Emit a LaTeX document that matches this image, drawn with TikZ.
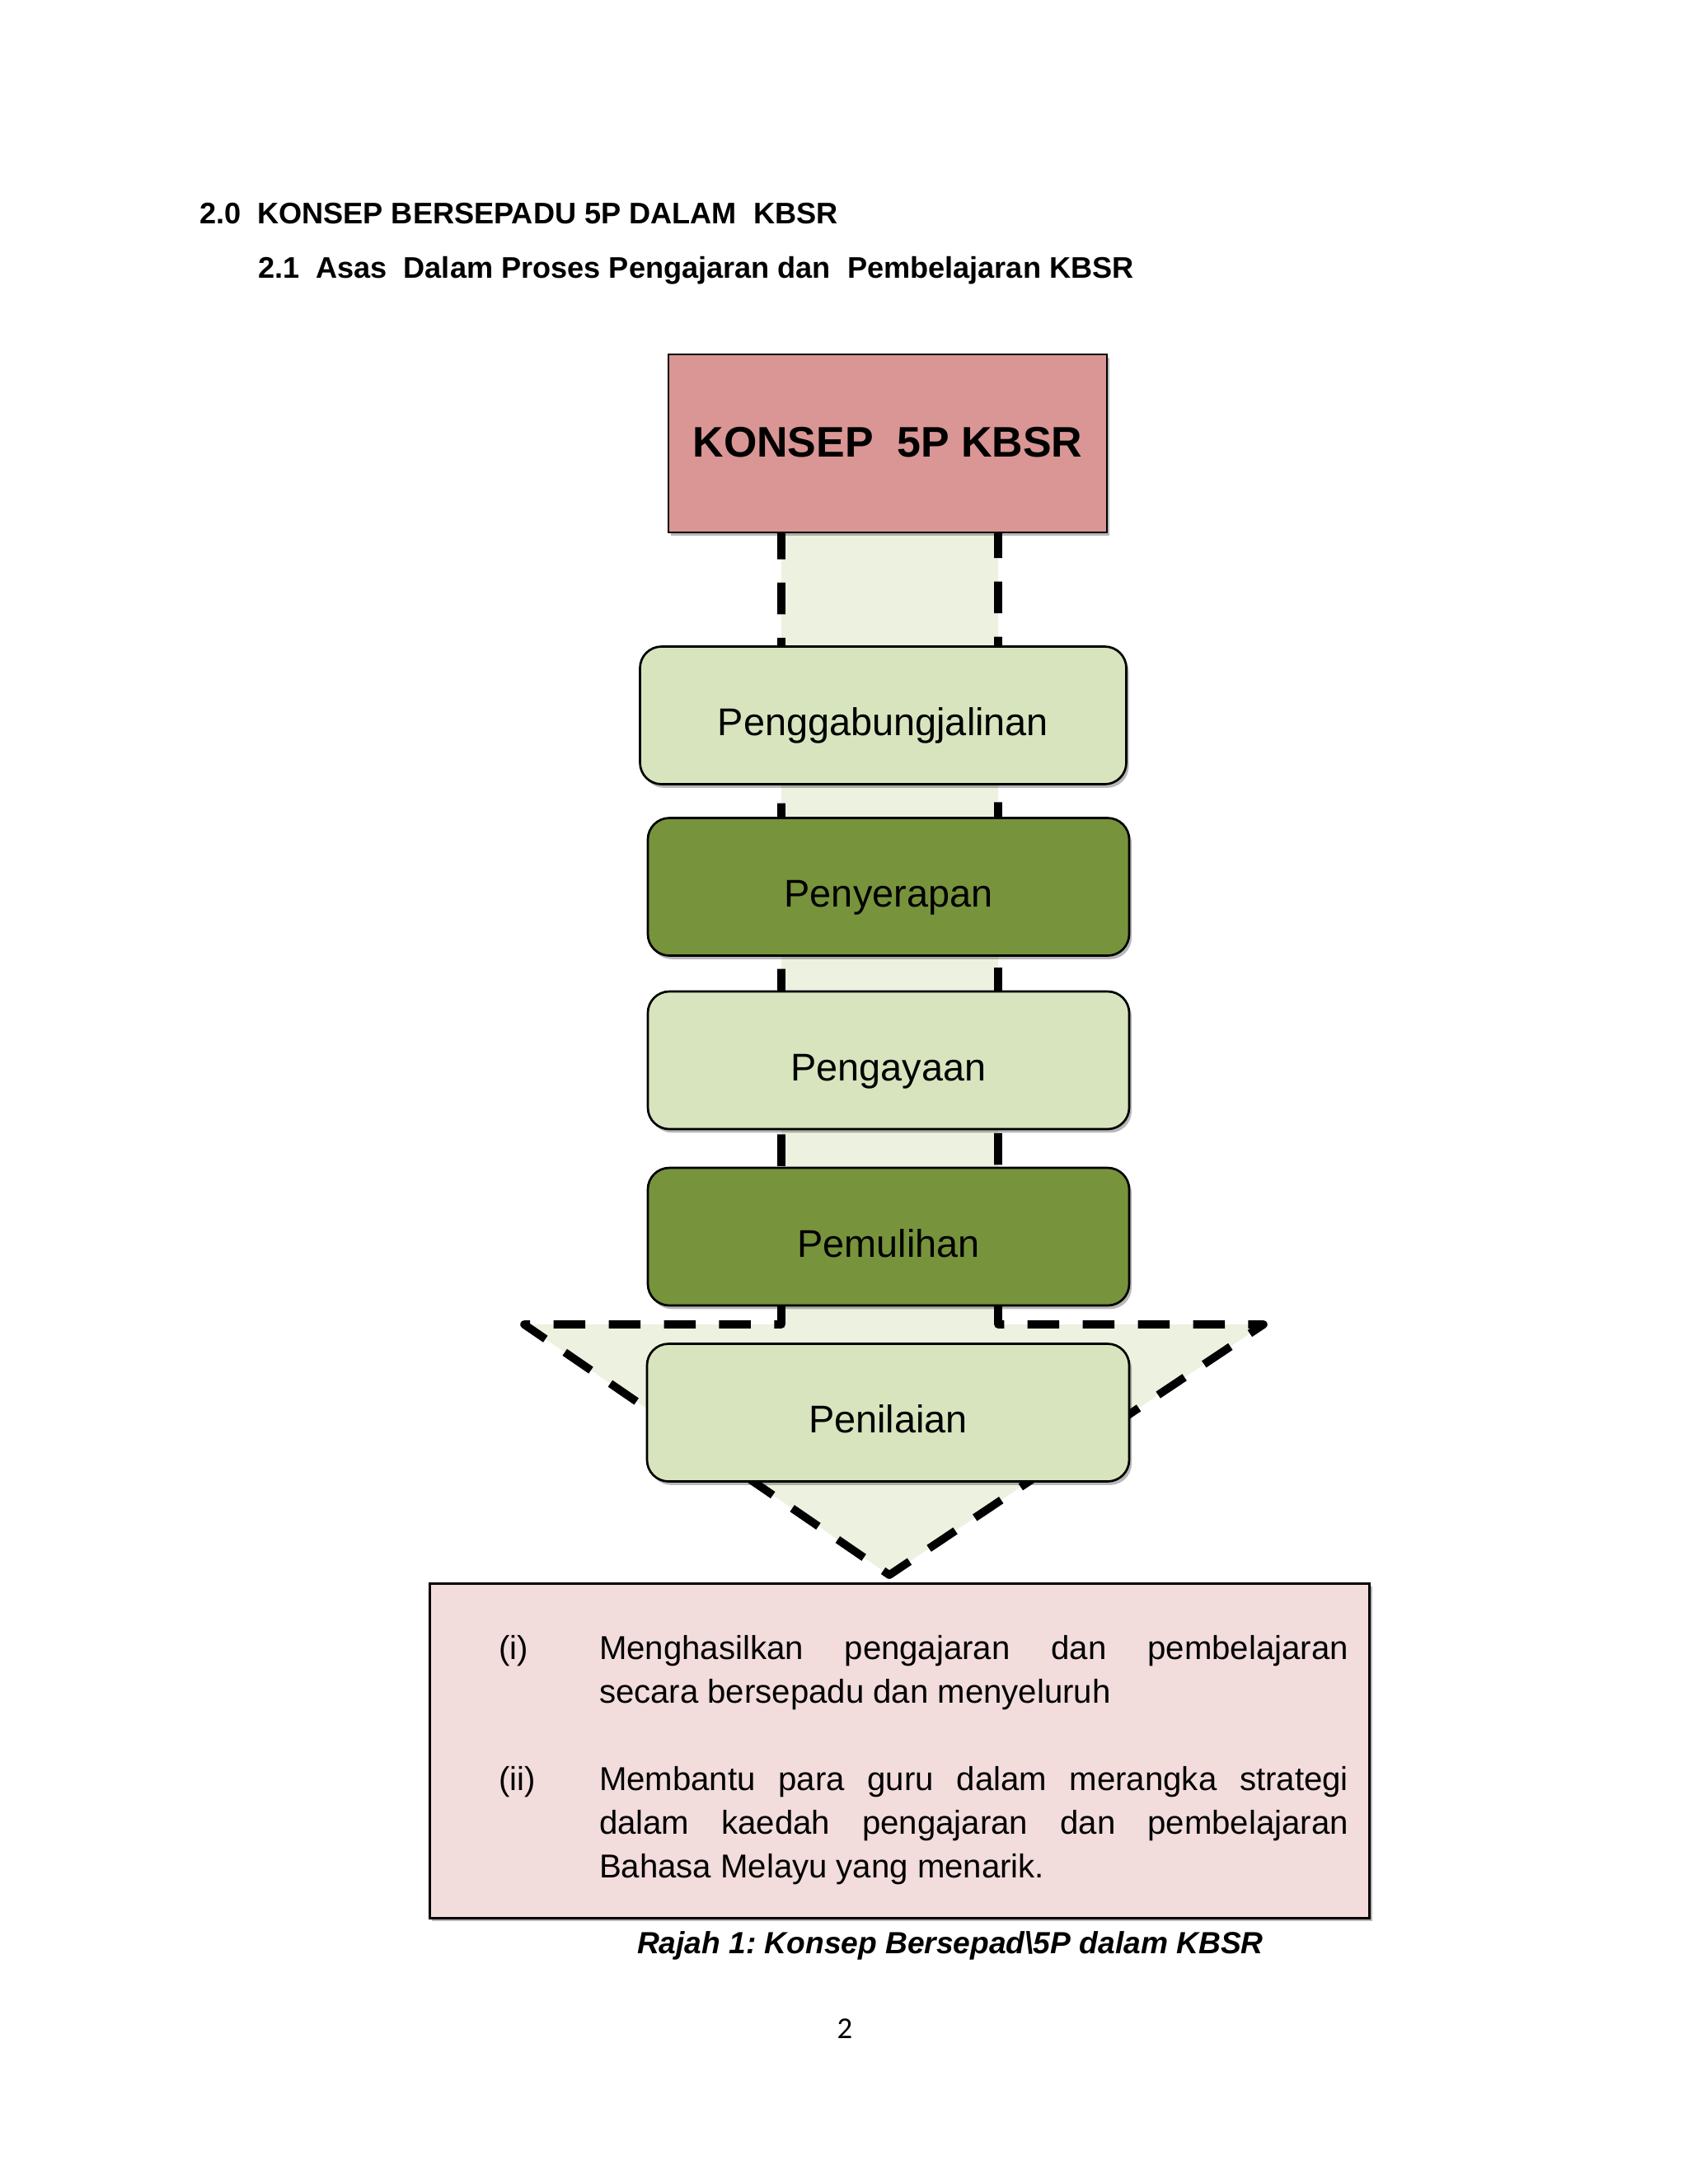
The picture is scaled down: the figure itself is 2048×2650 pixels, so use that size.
\documentclass[tikz,border=0pt]{standalone}
\usepackage{fontspec}
\setmainfont{Liberation Sans}
\newfontfamily\pagenumfont{Carlito}
\usetikzlibrary{shadows}
\definecolor{konsepfill}{RGB}{217,150,148}
\definecolor{lightgreen}{RGB}{215,228,189}
\definecolor{darkgreen}{RGB}{119,147,60}
\definecolor{arrowfill}{RGB}{236,241,224}
\definecolor{notefill}{RGB}{242,220,220}
\begin{document}
\frenchspacing
\begin{tikzpicture}[x=0.2988pt,y=-0.2988pt,
  every node/.style={inner sep=0pt, outer sep=0pt},
  boxshadow/.style={drop shadow={shadow xshift=0.9pt, shadow yshift=-1.3pt, fill=black, opacity=0.28}},
  headingtext/.style={anchor=base west, font=\fontsize{10.8}{13}\selectfont\bfseries},
  stagebox/.style={draw=black, line width=0.8pt, rounded corners=7.8pt,
    minimum width=174.5pt, minimum height=49.9pt,
    font=\fontsize{14}{17}\selectfont, text height=15pt, text depth=0.2pt, boxshadow},
  lightstage/.style={stagebox, fill=lightgreen},
  darkstage/.style={stagebox, fill=darkgreen},
  arrowoutline/.style={draw=black, line width=2.9pt, line join=round, dash pattern=on 11.5pt off 8.5pt},
  notetext/.style={anchor=base west, font=\fontsize{12}{16}\selectfont},
]
\useasboundingbox (0,0) rectangle (2048,2650);
\fill[white] (0,0) rectangle (2048,2650);

% headings
\node[headingtext] (h1) at (242,271) {2.0\ \ KONSEP BERSEPADU 5P DALAM\ \ KBSR};
\node[headingtext] (h2) at (313,337) {2.1\ \ Asas\ \ Dalam Proses Pengajaran dan\ \ Pembelajaran KBSR};

% arrow shape
\coordinate (sl) at (948,640);
\coordinate (sr) at (1211,640);
\coordinate (bl) at (948,1607);
\coordinate (br) at (1211,1607);
\coordinate (hl) at (636,1607);
\coordinate (hr) at (1533,1607);
\coordinate (apex) at (1079,1911);
\fill[arrowfill] (sl) -- (bl) -- (hl) -- (apex) -- (hr) -- (br) -- (sr) -- cycle;
\draw[arrowoutline] (sl) -- (bl) -- (hl) -- (apex) -- (hr) -- (br) -- (sr);

% top box
\node[draw=black, line width=0.8pt, fill=konsepfill, boxshadow,
      minimum width=159pt, minimum height=64.5pt,
      font=\fontsize{15.5}{18}\selectfont\bfseries, text height=11.1pt, text depth=1pt]
      (konsep) at (1077,538) {KONSEP\ \ 5P KBSR};

% stages
\node[lightstage, minimum width=176.3pt] (pgj) at (1071.5,868) {Penggabungjalinan};
\node[darkstage] (psr) at (1078,1076) {Penyerapan};
\node[lightstage] (pgy) at (1078,1286.5) {Pengayaan};
\node[darkstage] (pml) at (1078,1500.5) {Pemulihan};
\node[lightstage, minimum width=174.8pt] (pnl) at (1077.5,1714) {Penilaian};

% note box
\node[draw=black, line width=0.9pt, fill=notefill, boxshadow,
      minimum width=340.9pt, minimum height=121.3pt] (note) at (1091.5,2124) {};

\node[notetext] (n1) at (605,2013) {(i)};
\node[notetext] (n1a) at (727,2013) {\makebox[271.6pt][s]{Menghasilkan pengajaran dan pembelajaran}};
\node[notetext] (n1b) at (727,2066) {secara bersepadu dan menyeluruh};
\node[notetext] (n2) at (605,2172) {(ii)};
\node[notetext] (n2a) at (727,2172) {\makebox[271.6pt][s]{Membantu para guru dalam merangka strategi}};
\node[notetext] (n2b) at (727,2225) {\makebox[271.6pt][s]{dalam kaedah pengajaran dan pembelajaran}};
\node[notetext] (n2c) at (727,2278) {Bahasa Melayu yang menarik.};

% caption
\node[anchor=base west, font=\fontsize{11.1}{13}\selectfont\bfseries\itshape] (cap) at (773,2370)
  {Rajah 1: Konsep Bersepad\textbackslash 5P dalam KBSR};

% page number
\node[anchor=base, font=\pagenumfont\fontsize{11}{13}\selectfont] (pg) at (1025,2473) {2};
\end{tikzpicture}
\end{document}
